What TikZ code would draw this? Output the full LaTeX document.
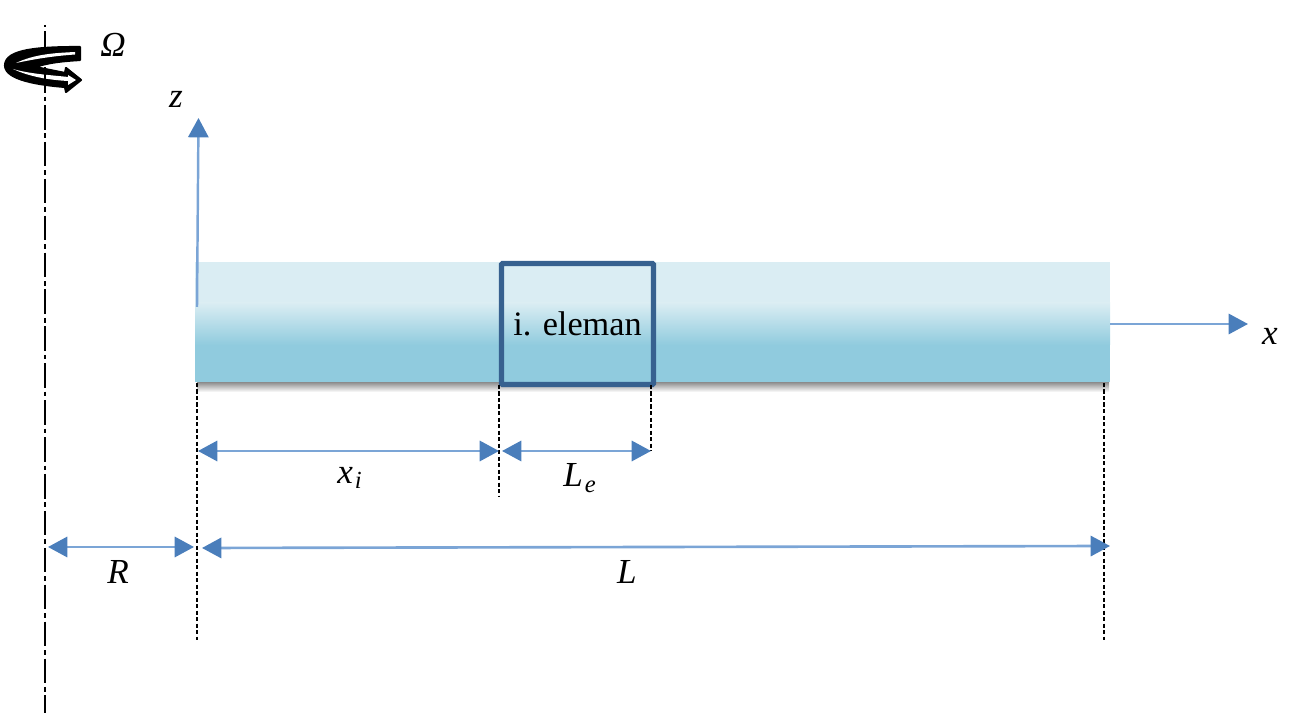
\documentclass[tikz,border=0pt]{standalone}
\usepackage{fontspec}
\usepackage{xcolor}
\usepackage{tikz}
\usetikzlibrary{arrows.meta}
\setmainfont{Liberation Serif}
\definecolor{arrowblue}{HTML}{4A7EBB}
\definecolor{linkblue}{HTML}{7BA5D6}
\definecolor{boxblue}{HTML}{37618F}
\definecolor{barlight}{HTML}{DAEDF3}
\definecolor{bardark}{HTML}{90CBDE}
\tikzset{
  dimline/.style={draw=linkblue,line width=1.5pt,{Triangle[length=11pt,width=11.5pt,color=arrowblue]}-{Triangle[length=11pt,width=11.5pt,color=arrowblue]}},
  axisline/.style={draw=linkblue,line width=1.4pt,-{Triangle[length=11pt,width=11.5pt,color=arrowblue]}},
  guideline/.style={black,line width=1pt,dash pattern=on 2.4pt off 1.3pt},
  centerline/.style={black,line width=1pt,dash pattern=on 14pt off 2.2pt on 2.6pt off 2.2pt,dash phase=17.5pt},
  varlabel/.style={font=\fontsize{20}{22}\selectfont\itshape,inner sep=0pt},
  spinband/.style={fill=black,draw=black,line width=1.2pt,line join=round}
}
\begin{document}
\begin{tikzpicture}
\useasboundingbox (0,0) rectangle (25.94,14.26);
% bar
\shade[top color=black!50,bottom color=white] (3.94,6.64) rectangle (22.18,6.42);
\fill[barlight] (3.9,8.2) rectangle (22.2,9.02);
\shade[top color=barlight,bottom color=bardark] (3.9,7.36) rectangle (22.2,8.2);
\fill[bardark] (3.9,6.62) rectangle (22.2,7.36);
% element
\node[draw=boxblue,line width=2.9pt,minimum width=3.04cm,minimum height=2.42cm,inner sep=0pt,rounded corners=0.5pt,
  font=\fontsize{19.5}{21}\selectfont] (Elem) at (11.55,7.78) {i. eleman};
% named points
\coordinate (AxisT) at (0.9,13.76);
\coordinate (AxisB) at (0.9,0);
\coordinate (G1T) at (3.94,6.6);
\coordinate (G1B) at (3.94,1.46);
\coordinate (G2T) at (9.98,6.56);
\coordinate (G2B) at (9.98,4.32);
\coordinate (G3T) at (13.02,6.56);
\coordinate (G3B) at (13.02,5.24);
\coordinate (G4T) at (22.08,6.6);
\coordinate (G4B) at (22.08,1.46);
\coordinate (ZS) at (3.94,8.12);
\coordinate (ZE) at (3.97,11.9);
\coordinate (XS) at (22.2,7.78);
\coordinate (XE) at (24.96,7.78);
\coordinate (XiA) at (3.96,5.24);
\coordinate (XiB) at (9.98,5.24);
\coordinate (LeA) at (10.04,5.24);
\coordinate (LeB) at (13.02,5.24);
\coordinate (RA) at (0.96,3.32);
\coordinate (RB) at (3.88,3.32);
\coordinate (LA) at (4.04,3.3);
\coordinate (LB) at (22.2,3.34);
% guides
\draw[centerline] (AxisT) -- (AxisB);
\draw[guideline] (G1T) -- (G1B);
\draw[guideline] (G2T) -- (G2B);
\draw[guideline] (G3T) -- (G3B);
\draw[guideline] (G4T) -- (G4B);
% axes
\draw[axisline] (ZS) -- (ZE);
\draw[axisline] (XS) -- (XE);
% dimensions
\draw[dimline] (XiA) -- (XiB);
\draw[dimline] (LeA) -- (LeB);
\draw[dimline] (RA) -- (RB);
\draw[dimline] (LA) -- (LB);
% spin arrow
\draw[spinband] (1.6,13.32) .. controls (0.8,13.32) and (0.1,13.28) .. (0.1,12.95)
  .. controls (0.1,12.66) and (0.8,12.56) .. (1.3,12.52) -- (1.32,12.42) -- (1.62,12.66) -- (1.32,12.9) -- (1.3,12.8)
  .. controls (1.0,12.86) and (0.9,12.88) .. (0.7,12.92)
  .. controls (1.0,13.02) and (1.3,13.04) .. (1.6,13.06) -- cycle;
\fill[white] (0.32,13.0) .. controls (0.7,13.18) and (1.1,13.2) .. (1.5,13.22) -- (1.5,13.17)
  .. controls (1.1,13.14) and (0.8,13.1) .. (0.32,13.0) -- cycle;
\fill[white] (0.26,12.88) .. controls (0.6,12.78) and (1.0,12.76) .. (1.36,12.72) -- (1.36,12.76) -- (1.52,12.66) -- (1.36,12.56) -- (1.36,12.64)
  .. controls (1.0,12.66) and (0.6,12.72) .. (0.26,12.88) -- cycle;
\draw[black,line width=1pt] (0.9,12.92) -- (0.9,12.5);
% labels
\node[varlabel] (LblOmega) at (2.26,13.36) {Ω};
\node[varlabel] (LblZ) at (3.52,12.28) {z};
\node[varlabel] (LblX) at (25.4,7.54) {x};
\node[varlabel] (LblXi) at (7.0,4.7) {x\textsubscript{\kern1pt i}};
\node[varlabel] (LblLe) at (11.6,4.7) {L\textsubscript{\kern1pt e}};
\node[varlabel] (LblR) at (2.36,2.82) {R};
\node[varlabel] (LblL) at (12.54,2.82) {L};
\end{tikzpicture}
\end{document}
